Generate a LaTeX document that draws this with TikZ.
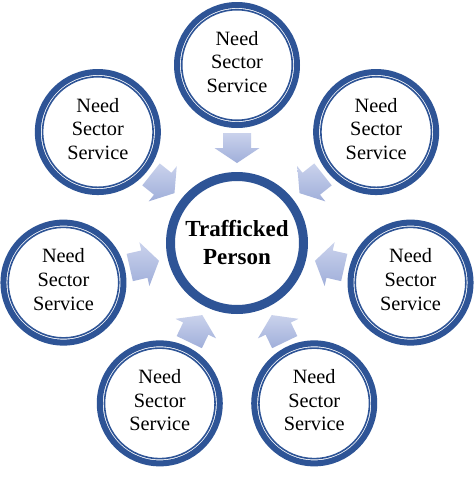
\documentclass[tikz,border=0pt]{standalone}
\usepackage{fontspec}
\setmainfont{Liberation Serif}
\usetikzlibrary{calc}
\definecolor{ringblue}{RGB}{46,84,150}
\definecolor{arrlight}{RGB}{202,210,236}
\definecolor{arrdark}{RGB}{160,175,218}
\begin{document}
\begin{tikzpicture}[x=1pt,y=1pt,
  outer/.style={circle, draw=ringblue, line width=6pt, minimum size=120pt, inner sep=0pt},
  outertext/.style={align=center, inner sep=0pt, font=\fontsize{20.3}{23.6}\selectfont},
  hub/.style={circle, draw=ringblue, line width=9pt, minimum size=133pt, inner sep=0pt, align=center, font=\bfseries\fontsize{23}{28}\selectfont},
  blockarrow/.style={top color=arrlight, bottom color=arrdark, draw=none},
  thinring/.style={draw=ringblue, line width=1.6pt}]
\useasboundingbox (0,-485) rectangle (474,0);
\fill[white] (0,-485) rectangle (474,0);
\coordinate (c) at (237,-243);
\node[hub] (hub) at (c) {Trafficked\\Person};
\foreach \i in {0,...,6} {
  \pgfmathsetmacro\ang{90-\i*360/7}
  \node[outer] (o\i) at ($(c)+(\ang:178)$) {};
  \draw[thinring] (o\i.center) circle (55.3pt);
  \node[outertext] (t\i) at ([yshift=3pt]o\i.center) {Need\\Sector\\Service};
  \begin{scope}[shift={(c)}, rotate=\ang]
    \shade[blockarrow] (110,-14) -- (95,-14) -- (95,-22.5) -- (80,0) -- (95,22.5) -- (95,14) -- (110,14) -- cycle;
  \end{scope}
}
\end{tikzpicture}
\end{document}
